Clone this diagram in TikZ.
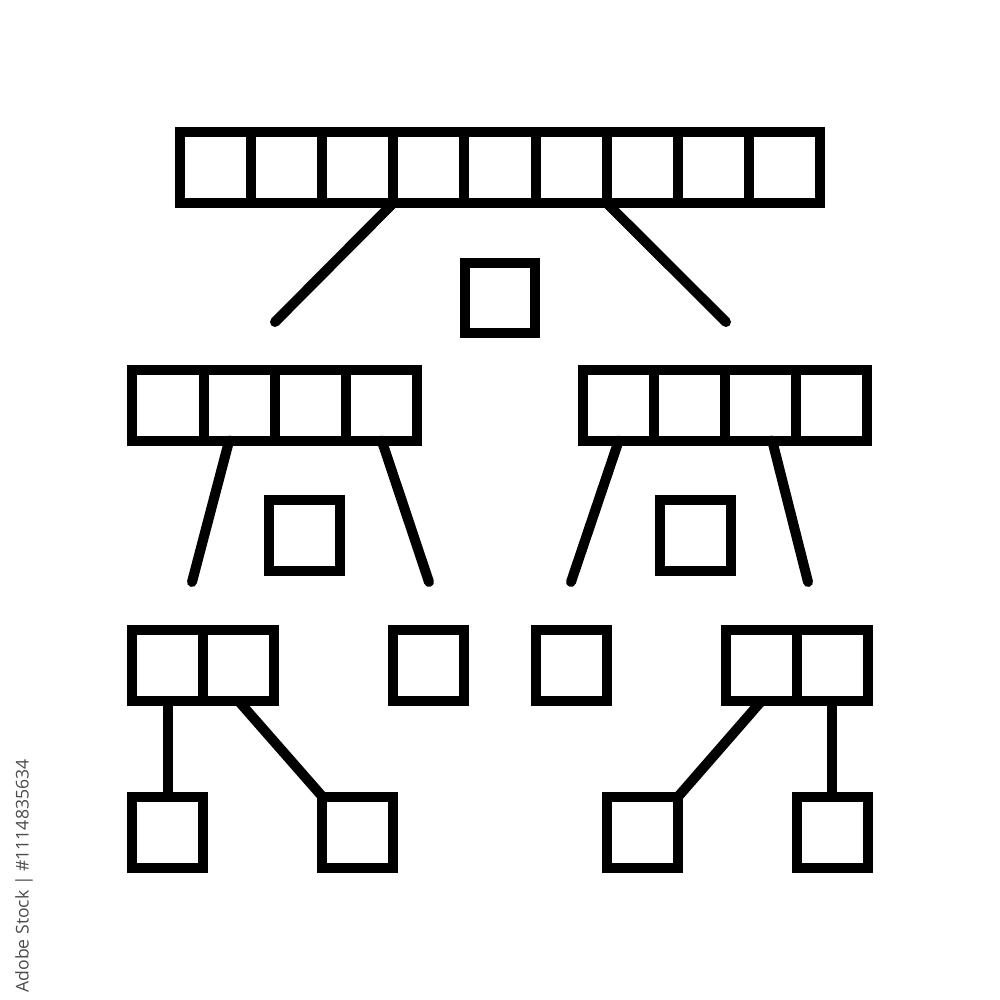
\documentclass[tikz,border=0pt]{standalone}
\usepackage{fontspec}
\newfontfamily\wmfont{Open Sans}
\usetikzlibrary{calc}
\begin{document}
\begin{tikzpicture}[x=1pt,y=-1pt,
  cell/.style={draw=black, line width=10pt, rectangle, inner sep=0pt, outer sep=0pt,
               minimum width=71pt, minimum height=71pt},
  wide/.style={cell, minimum width=71.1pt},
  link/.style={draw=black, line width=10pt, line cap=round},
  stub/.style={draw=black, line width=10pt, line cap=butt}]
\useasboundingbox[fill=white] (0,0) rectangle (1000,1000);

% top bar (9 cells)
\foreach \i in {1,...,9} {
  \node[wide] (t\i) at ({180+71.1*(\i-0.5)},167.5) {};
}
\node[cell, minimum size=70pt] (m0) at (500,298) {};
\coordinate (e1) at (275,322);
\coordinate (e2) at (726,322);
\draw[link] (t3.south east) -- (e1);
\draw[link] (t6.south east) -- (e2);

% second row, left and right bars
\foreach \i in {1,...,4} {
  \node[cell, minimum width=71.25pt] (l\i) at ({132.3+71.25*(\i-0.5)},405) {};
}
\foreach \i in {1,...,4} {
  \node[cell] (r\i) at ({583.3+71*(\i-0.5)},405) {};
}
\node[cell] (m1) at (304,535.5) {};
\node[cell] (m2) at (695.5,535.5) {};
\coordinate (e3) at (192,582);
\coordinate (e4) at (429,582);
\coordinate (e5) at (571,582);
\coordinate (e6) at (808,582);
\draw[link] ($(l2.south west)!0.36!(l2.south east)$) -- (e3);
\draw[link] (l4.south) -- (e4);
\draw[link] (r1.south) -- (e5);
\draw[link] ($(r3.south west)!0.66!(r3.south east)$) -- (e6);

% third row
\node[cell] (b1) at (167.8,665.8) {};
\node[cell] (b2) at (238.8,665.8) {};
\node[cell] (s1) at (428.8,665.8) {};
\node[cell] (s2) at (571.2,665.8) {};
\node[cell] (c1) at (761.2,665.8) {};
\node[cell] (c2) at (832.2,665.8) {};

% bottom row
\node[cell] (q1) at (167.8,832) {};
\node[cell] (q2) at (357.8,832) {};
\node[cell] (q3) at (642.7,832) {};
\node[cell] (q4) at (832.2,832) {};

\draw[stub] (b1.south) -- (q1.north);
\draw[stub] (b2.south) -- (q2.north west);
\draw[stub] (c1.south) -- (q3.north east);
\draw[stub] (c2.south) -- (q4.north);

% vertical stock label
\node[rotate=90, text=black!70, font=\wmfont\fontsize{17.6}{19}\selectfont, inner sep=0pt]
  (wm) at (24,876) {Adobe Stock | \#1114835634};
\end{tikzpicture}
\end{document}
